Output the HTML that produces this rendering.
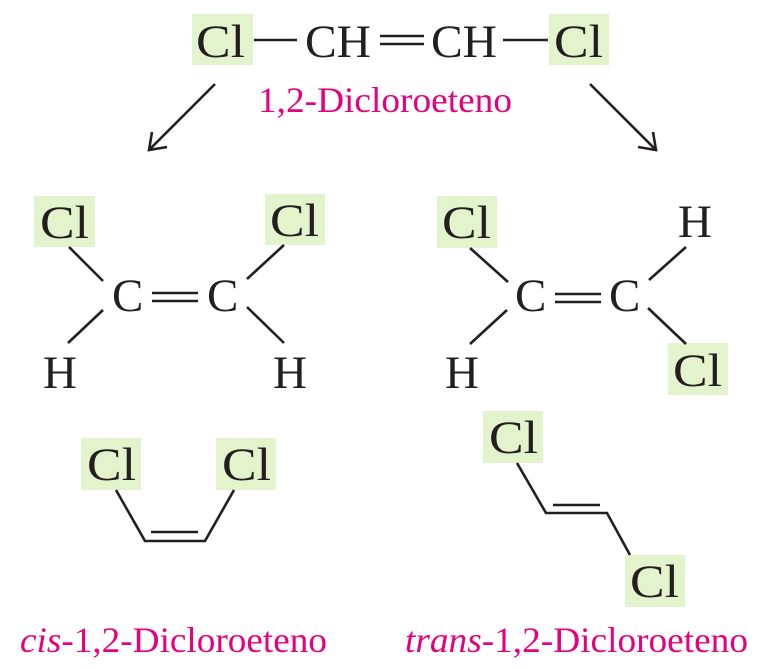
<!DOCTYPE html>
<html><head><meta charset="utf-8"><style>
html,body{margin:0;padding:0;background:#fff;}
svg{display:block;}
text{font-family:"Liberation Serif",serif;fill:#231f20;}
.p{fill:#e6007e;}
</style></head><body>
<svg width="768" height="668" viewBox="0 0 768 668" xmlns="http://www.w3.org/2000/svg">
<g fill="#e3f3cb">
<rect x="192" y="14" width="61" height="51"/>
<rect x="549" y="14" width="60" height="51"/>
<rect x="34" y="196" width="61" height="51"/>
<rect x="265" y="194" width="60" height="51"/>
<rect x="437" y="196" width="60" height="52"/>
<rect x="668" y="343" width="60" height="52"/>
<rect x="81" y="438" width="60" height="52"/>
<rect x="216" y="438" width="60" height="52"/>
<rect x="483" y="411" width="60" height="52"/>
<rect x="625" y="555" width="60" height="52"/>
</g>
<g font-size="47">
<text x="196" y="57" textLength="49" lengthAdjust="spacingAndGlyphs">Cl</text>
<text x="305" y="57" textLength="66" lengthAdjust="spacingAndGlyphs">CH</text>
<text x="431" y="57" textLength="66" lengthAdjust="spacingAndGlyphs">CH</text>
<text x="554" y="57" textLength="49" lengthAdjust="spacingAndGlyphs">Cl</text>
<text x="40" y="238" textLength="49" lengthAdjust="spacingAndGlyphs">Cl</text>
<text x="270" y="236" textLength="49" lengthAdjust="spacingAndGlyphs">Cl</text>
<text x="112" y="311">C</text>
<text x="207" y="311">C</text>
<text x="43" y="388">H</text>
<text x="273" y="388">H</text>
<text x="442" y="238" textLength="49" lengthAdjust="spacingAndGlyphs">Cl</text>
<text x="678" y="237">H</text>
<text x="515" y="311">C</text>
<text x="609" y="311">C</text>
<text x="445" y="388">H</text>
<text x="673" y="386" textLength="49" lengthAdjust="spacingAndGlyphs">Cl</text>
<text x="87" y="480" textLength="49" lengthAdjust="spacingAndGlyphs">Cl</text>
<text x="222" y="480" textLength="49" lengthAdjust="spacingAndGlyphs">Cl</text>
<text x="489" y="453" textLength="49" lengthAdjust="spacingAndGlyphs">Cl</text>
<text x="630" y="597" textLength="49" lengthAdjust="spacingAndGlyphs">Cl</text>
</g>
<text class="p" x="258" y="112" font-size="36" textLength="254" lengthAdjust="spacingAndGlyphs">1,2-Dicloroeteno</text>
<text class="p" x="20" y="652" font-size="36" textLength="307" lengthAdjust="spacingAndGlyphs"><tspan font-style="italic">cis</tspan>-1,2-Dicloroeteno</text>
<text class="p" x="405" y="652" font-size="36" textLength="343" lengthAdjust="spacingAndGlyphs"><tspan font-style="italic">trans</tspan>-1,2-Dicloroeteno</text>
<g stroke="#231f20" stroke-width="2.6" fill="none">
<line x1="254" y1="40" x2="297" y2="40"/>
<line x1="380" y1="36" x2="424" y2="36"/>
<line x1="380" y1="44" x2="424" y2="44"/>
<line x1="503" y1="40" x2="548" y2="40"/>
<line x1="215" y1="84" x2="150" y2="149"/>
<polyline points="152,132 149,150 167,147"/>
<line x1="590" y1="84" x2="655" y2="149"/>
<polyline points="638,147 656,150 653,132"/>
<line x1="69" y1="247" x2="103" y2="281"/>
<line x1="103" y1="310" x2="68" y2="343"/>
<line x1="284" y1="245" x2="247" y2="279"/>
<line x1="247" y1="307" x2="284" y2="343"/>
<line x1="152" y1="293" x2="198" y2="293"/>
<line x1="152" y1="301" x2="198" y2="301"/>
<line x1="470" y1="248" x2="508" y2="282"/>
<line x1="507" y1="310" x2="470" y2="344"/>
<line x1="686" y1="247" x2="649" y2="280"/>
<line x1="648" y1="308" x2="686" y2="344"/>
<line x1="555" y1="294" x2="601" y2="294"/>
<line x1="555" y1="302" x2="601" y2="302"/>
<polyline points="116,490 145,541 205,541 234,490"/>
<line x1="151" y1="532" x2="198" y2="532"/>
<polyline points="517,463 546,513 607,513 630,555"/>
<line x1="553" y1="505" x2="600" y2="505"/>
</g>
</svg>
</body></html>
